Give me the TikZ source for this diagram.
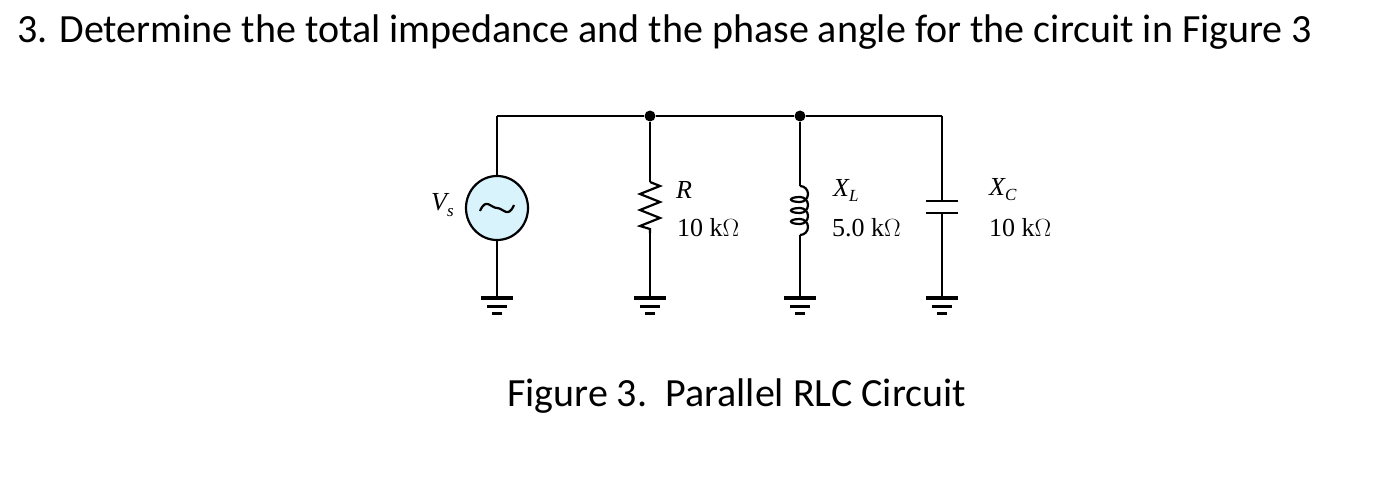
\documentclass[tikz,border=0pt]{standalone}
\usepackage{fontspec}
\setmainfont{Liberation Serif}
\newfontfamily\calfont{Carlito}
\usetikzlibrary{calc,shapes.geometric}
\begin{document}
\begin{tikzpicture}[x=1pt,y=-1pt,
  wire/.style={line width=1.3pt},
  comp/.style={line width=2.2pt},
  lbl/.style={anchor=west,font=\fontsize{26}{28}\selectfont,inner sep=0pt},
  dot/.style={circle,fill=black,inner sep=0pt,minimum size=11pt}]
\useasboundingbox (0,0) rectangle (1397,492);
\node[anchor=west,inner sep=0pt,font=\calfont\fontsize{40}{44}\selectfont] (title) at (17,32) {3. Determine the total impedance and the phase angle for the circuit in Figure 3};
\node[anchor=west,inner sep=0pt,font=\calfont\fontsize{40}{44}\selectfont] (cap) at (507,396) {Figure 3.\ \ Parallel RLC Circuit};
\coordinate (t1) at (497,116);
\node[dot] (j1) at (650,116) {};
\node[dot] (j2) at (800,116) {};
\coordinate (t4) at (942,116);
\draw[wire] (t1) -- (j1) -- (j2) -- (t4);
% source
\node[draw,comp,ellipse,fill=cyan!15,minimum width=62pt,minimum height=64pt,inner sep=0pt] (vs) at (497,208) {};
\draw[comp] ($(vs)+(-17,3)$) .. controls +(6,-14) and +(-6,0) .. ($(vs)+(0,0)$) .. controls +(6,0) and +(-6,14) .. ($(vs)+(17,-3)$);
\node[lbl,font=\fontsize{26}{28}\selectfont\itshape] (vsl) at (431,205) {V\raisebox{-6pt}{\fontsize{17}{18}\selectfont s}};
% grounds
\foreach \x/\n in {497/g1,650/g2,800/g3,942/g4}{
  \coordinate (\n) at (\x,298);
  \draw[line width=4pt] (\x-16,298) -- (\x+16,298);
  \draw[line width=3pt] (\x-10,306) -- (\x+10,306);
  \draw[line width=3pt] (\x-5,313) -- (\x+5,313);
}
\draw[wire] (t1) -- (vs.north);
\draw[wire] (vs.south) -- (g1);
% resistor
\coordinate (r1) at (650,182);
\coordinate (r2) at (650,233);
\draw[wire] (j1) -- (r1);
\draw[wire] (r2) -- (g2);
\draw[comp,line join=miter] (r1) -- (660,186) -- (640,194) -- (660,202) -- (640,210) -- (660,218) -- (640,226) -- (650,229) -- (r2);
\node[lbl,font=\fontsize{26}{28}\selectfont\itshape] (rl) at (676,190) {R};
\node[lbl] (rv) at (677,228) {10 k$\Omega$};
% inductor
\coordinate (l1) at (800,186);
\coordinate (l2) at (800,235);
\draw[wire] (j2) -- (l1);
\draw[wire] (l2) -- (g3);
\draw[comp] (l1) arc (-90:90:8 and 8)
  .. controls +(-12,0) and +(-12,0) .. ++(0,-5) arc (-90:90:8 and 8)
  .. controls +(-12,0) and +(-12,0) .. ++(0,-5) arc (-90:90:8 and 8)
  .. controls +(-12,0) and +(-12,0) .. ++(0,-5) arc (-90:90:8 and 8);
\node[lbl] (ll) at (833,190) {\textit{X\raisebox{-5pt}{\fontsize{17}{18}\selectfont L}}};
\node[lbl] (lv) at (832,228) {5.0 k$\Omega$};
% capacitor
\coordinate (c1) at (942,201);
\coordinate (c2) at (942,213);
\draw[wire] (t4) -- (c1);
\draw[wire] (c2) -- (g4);
\draw[comp] (926,201) -- (958,201);
\draw[comp] (926,213) -- (958,213);
\node[lbl] (cl) at (989,190) {\textit{X\raisebox{-5pt}{\fontsize{17}{18}\selectfont C}}};
\node[lbl] (cv) at (989,228) {10 k$\Omega$};
\end{tikzpicture}
\end{document}
